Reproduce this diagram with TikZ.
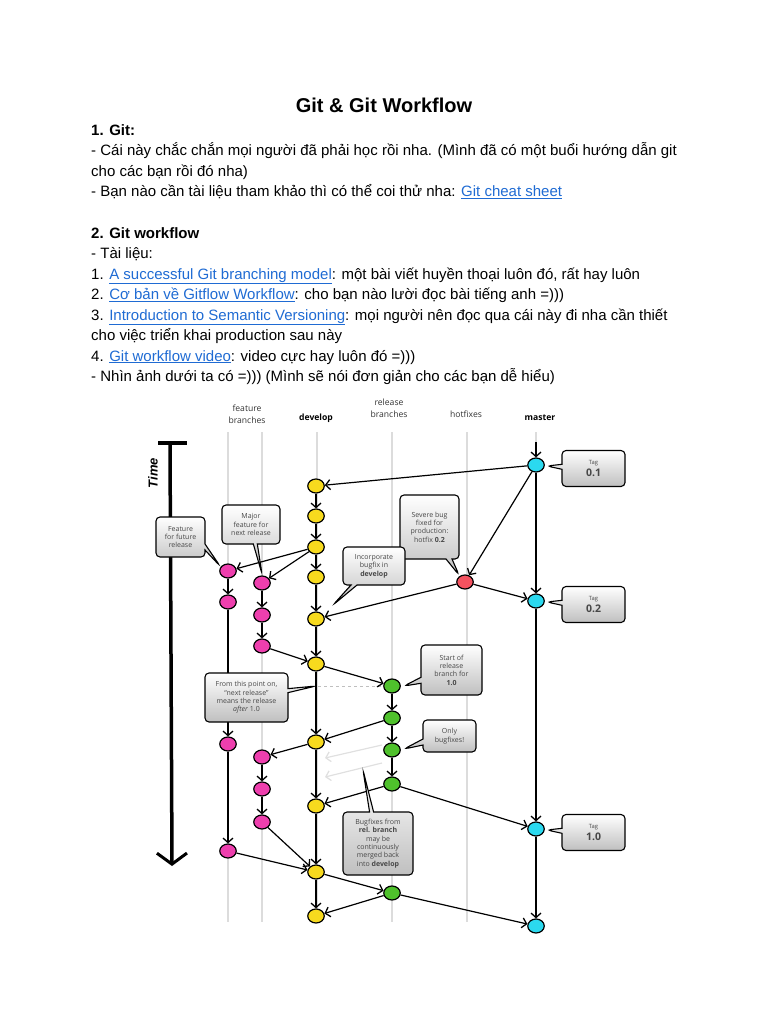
\documentclass[tikz,border=0pt]{standalone}
\usepackage{fontspec}
\setmainfont{Liberation Sans}
\newfontfamily\diagfont{Open Sans}
\usetikzlibrary{arrows.meta,shapes.geometric,shapes.callouts}
\definecolor{linkblue}{HTML}{1F6BD3}
\definecolor{cyellow}{HTML}{F7DA1E}
\definecolor{cpink}{HTML}{EE3FAE}
\definecolor{cgreen}{HTML}{4FC12C}
\definecolor{ccyan}{HTML}{2BD9EF}
\definecolor{cred}{HTML}{F4525F}
\definecolor{lanegray}{HTML}{DCDCDC}
\newcommand{\lnk}[1]{{\color{linkblue}\underline{#1}}}
\newcommand{\tagtext}[1]{{\fontsize{5.8}{7}\selectfont Tag}\\[2.5pt]{\bfseries\fontsize{10.5}{11}\selectfont #1}}
\tikzset{
  body/.style={anchor=base west, inner sep=0pt, font=\fontsize{15}{18}\selectfont},
  commit/.style={ellipse, draw=black, line width=1.2pt, minimum width=16.5pt, minimum height=14pt, inner sep=0pt},
  dev/.style={commit, fill=cyellow},
  feat/.style={commit, fill=cpink},
  rel/.style={commit, fill=cgreen},
  mas/.style={commit, fill=ccyan},
  hot/.style={commit, fill=cred},
  ar/.style={line width=1.2pt, -{Straight Barb[length=4.5pt,width=10pt,line width=1.3pt]}},
  faint/.style={line width=1.2pt, draw=black!12, -{Straight Barb[length=4.5pt,width=10pt,line width=1.3pt]}},
  lane/.style={draw=lanegray, line width=2.5pt},
  collabel/.style={align=center, inner sep=0pt, font=\diagfont\fontsize{8.6}{11.5}\selectfont, text=black!80},
  callbox/.style={rectangle callout, rounded corners=4pt, draw=black, line width=1.1pt,
    top color=white, bottom color=black!25, align=center, inner sep=1pt,
    font=\diagfont\fontsize{7}{8.4}\selectfont, text=black!72, callout pointer width=6pt},
  tagbox/.style={callbox, minimum width=63pt, minimum height=36pt, callout pointer width=5pt}
}
\begin{document}
\begin{tikzpicture}[x=1pt,y=-1pt]
\useasboundingbox (0,0) rectangle (768,1024);

% ---------- text ----------
\node[anchor=base, inner sep=0pt, font=\bfseries\fontsize{20}{24}\selectfont] (title) at (384,113) {Git \& Git Workflow};
\node[body, font=\bfseries\fontsize{15}{18}\selectfont] (h1) at (91,135.5) {1. Git:};
\node[body] (t1) at (91,156) {- Cái này chắc chắn mọi người đã phải học rồi nha. (Mình đã có một buổi hướng dẫn git};
\node[body] (t2) at (91,176.5) {cho các bạn rồi đó nha)};
\node[body] (t3) at (91,197) {- Bạn nào cần tài liệu tham khảo thì có thể coi thử nha: \lnk{Git cheat sheet}};
\node[body, font=\bfseries\fontsize{15}{18}\selectfont] (h2) at (91,238) {2. Git workflow};
\node[body] (t4) at (91,258.5) {- Tài liệu:};
\node[body] (t5) at (91,279) {1. \lnk{A successful Git branching model}: một bài viết huyền thoại luôn đó, rất hay luôn};
\node[body] (t6) at (91,299.5) {2. \lnk{Cơ bản về Gitflow Workflow}: cho bạn nào lười đọc bài tiếng anh =)))};
\node[body] (t7) at (91,320) {3. \lnk{Introduction to Semantic Versioning}: mọi người nên đọc qua cái này đi nha cần thiết};
\node[body] (t8) at (91,340.5) {cho việc triển khai production sau này};
\node[body] (t9) at (91,361) {4. \lnk{Git workflow video}: video cực hay luôn đó =)))};
\node[body] (t10) at (91,381.5) {- Nhìn ảnh dưới ta có =))) (Mình sẽ nói đơn giản cho các bạn dễ hiểu)};

% ---------- column labels ----------
\node[collabel] (lf) at (247,414) {feature\\branches};
\node[collabel, font=\diagfont\bfseries\fontsize{8.6}{11}\selectfont, text=black] (ld) at (316,418) {develop};
\node[collabel] (lr) at (389,408.5) {release\\branches};
\node[collabel] (lh) at (466,414) {hotfixes};
\node[collabel, font=\diagfont\bfseries\fontsize{8.6}{11}\selectfont, text=black] (lm) at (540,418) {master};

% ---------- lanes ----------
\foreach \x in {228,262,317,392,467,536} \draw[lane] (\x,432) -- (\x,922);

% ---------- time axis ----------
\coordinate (tbl) at (158,443);
\coordinate (tbr) at (187,443);
\coordinate (ttop) at (170,443);
\coordinate (tbot) at (172,866);
\draw[line width=4pt] (tbl) -- (tbr);
\draw[line width=3.5pt, -{Straight Barb[length=11pt,width=30pt,line width=3pt]}] (ttop) -- (tbot);
\node[rotate=90, font=\bfseries\itshape\fontsize{13}{15}\selectfont, inner sep=0pt] (time) at (153,473) {Time};

% ---------- commits ----------
\node[mas] (m0) at (536,465) {};
\node[mas] (m1) at (536,601) {};
\node[mas] (m2) at (536,829) {};
\node[mas] (m3) at (536,926) {};
\node[hot] (h0) at (465,582) {};
\foreach \n/\y in {0/486,1/516,2/547,3/577,4/619,5/664,6/742,7/806,8/872,9/916}
  \node[dev] (d\n) at (316,\y) {};
\foreach \n/\y in {0/571,1/602,2/744,3/851}
  \node[feat] (fa\n) at (228,\y) {};
\foreach \n/\y in {0/583,1/615,2/646,3/757,4/789,5/822}
  \node[feat] (fb\n) at (262,\y) {};
\foreach \n/\y in {0/686,1/718,2/750,3/784,4/893}
  \node[rel] (r\n) at (392,\y) {};

% ---------- faint merges ----------
\coordinate (g1s) at (382,745);
\coordinate (g1e) at (325,758);
\coordinate (g2s) at (382,763);
\coordinate (g2e) at (325,777);
\draw[faint] (g1s) -- (g1e);
\draw[faint] (g2s) -- (g2e);

% dashed continuation
\coordinate (dsh) at (318,686);
\draw[dashed, draw=black!25, line width=0.9pt] (dsh) -- (r0);

% ---------- connectors ----------
\coordinate (mtop) at (536,442);
\draw[ar] (mtop) -- (m0);
\foreach \a/\b in {m0/d0, m0/h0, m0/m1, h0/m1, h0/d4,
  d0/d1, d1/d2, d2/d3, d3/d4, d4/d5, d5/d6, d6/d7, d7/d8, d8/d9,
  d2/fa0, d2/fb0, fa0/fa1, fa1/fa2, fa2/fa3,
  fb0/fb1, fb1/fb2, fb2/d5, d5/r0, r0/r1, r1/r2, r2/r3, r1/d6,
  d6/fb3, fb3/fb4, fb4/fb5, r3/d7, r3/m2, fb5/d8, fa3/d8,
  d8/r4, r4/d9, r4/m3, m1/m2, m2/m3}
  \draw[ar] (\a) -- (\b);

% ---------- callouts ----------
\node[tagbox, callout absolute pointer={(547,466)}] (tag1) at (593.5,468.5) {\tagtext{0.1}};
\node[tagbox, callout absolute pointer={(547,602)}] (tag2) at (593.5,604.5) {\tagtext{0.2}};
\node[tagbox, callout absolute pointer={(547,830)}] (tag3) at (593.5,832.5) {\tagtext{1.0}};
\node[callbox, minimum width=49pt, minimum height=40pt, callout absolute pointer={(220,566)}] (cfut) at (180.5,537)
  {Feature\\for future\\release};
\node[callbox, minimum width=58pt, minimum height=39pt, callout pointer width=4pt, callout absolute pointer={(262,574)}] (cmaj) at (251,524.5)
  {Major\\feature for\\next release};
\node[callbox, minimum width=59pt, minimum height=64pt, callout absolute pointer={(459,575)}] (csev) at (429.5,527)
  {Severe bug\\fixed for\\production:\\hotfix \textbf{0.2}};
\node[callbox, minimum width=62pt, minimum height=38pt, callout absolute pointer={(333,605)}] (cinc) at (374,566)
  {Incorporate\\bugfix in\\\textbf{develop}};
\node[callbox, minimum width=61pt, minimum height=50pt, callout absolute pointer={(404,686)}] (cstart) at (451.5,670)
  {Start of\\release\\branch for\\\textbf{1.0}};
\node[callbox, minimum width=53pt, minimum height=32pt, callout absolute pointer={(404,749)}] (conly) at (449.5,736)
  {Only\\bugfixes!};
\node[callbox, minimum width=83pt, minimum height=49pt, callout pointer width=4pt, callout absolute pointer={(316,686)}] (cfrom) at (246.5,697.5)
  {From this point on,\\“next release”\\means the release\\\textit{after} 1.0};
\node[callbox, minimum width=70pt, minimum height=63pt, callout pointer width=4pt, callout absolute pointer={(363,770)}] (cbug) at (378,843.5)
  {Bugfixes from\\\textbf{rel. branch}\\may be\\continuously\\merged back\\into \textbf{develop}};
\end{tikzpicture}
\end{document}
